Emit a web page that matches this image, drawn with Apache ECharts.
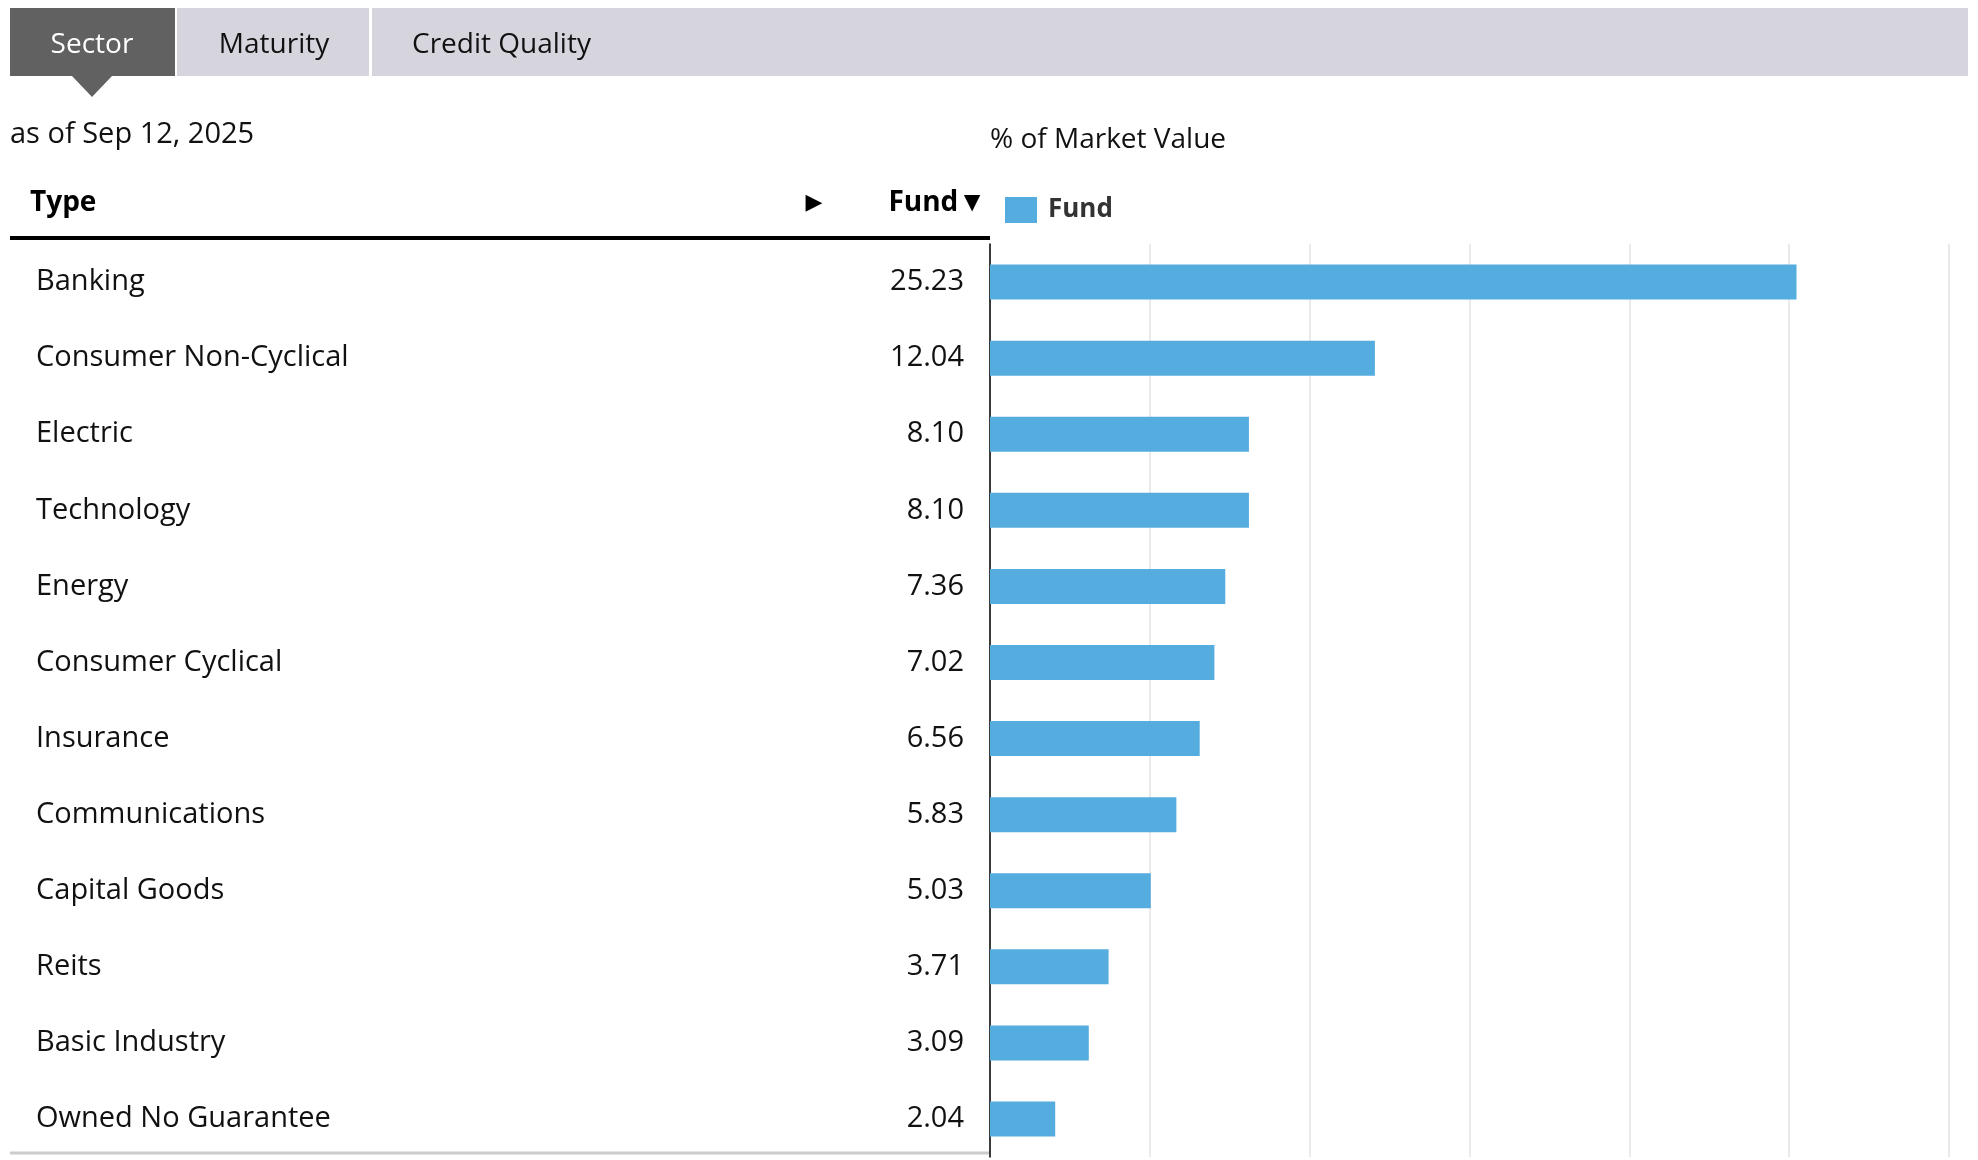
<!DOCTYPE html>
<html><head><meta charset="utf-8">
<script src="https://cdn.jsdelivr.net/npm/echarts@6/dist/echarts.min.js"></script>
<style>html,body{margin:0;padding:0;background:#fff;}#c{width:1978px;height:1160px;}</style>
</head><body><div id="c"></div>
<script>
const categories = ['Banking','Consumer Non-Cyclical','Electric','Technology','Energy','Consumer Cyclical','Insurance','Communications','Capital Goods','Reits','Basic Industry','Owned No Guarantee'];
const fundValues = [25.23,12.04,8.10,8.10,7.36,7.02,6.56,5.83,5.03,3.71,3.09,2.04];
const tabLabels = ['Sector','Maturity','Credit Quality'];
const seriesName = 'Fund';
const asOfText = 'as of Sep 12, 2025';
const axisTitle = '% of Market Value';

const FONT = 'Open Sans';
const chart = echarts.init(document.getElementById('c'));
chart.setOption({
  animation: false,
  backgroundColor: '#fff',
  textStyle: { fontFamily: FONT },
  legend: {
    data: [seriesName], left: 1005, top: 197, padding: 0,
    icon: 'rect', itemWidth: 32, itemHeight: 26, itemGap: 12,
    textStyle: { fontFamily: FONT, fontSize: 26, fontWeight: 'bold', color: '#333', padding: [4,0,0,6] }
  },
  grid: { left: 990, right: 29, top: 244, bottom: 3, containLabel: false },
  xAxis: {
    type: 'value', min: 0, max: 30, interval: 5,
    axisLabel: { show: false }, axisLine: { show: false }, axisTick: { show: false },
    splitLine: { show: true, lineStyle: { color: '#e3e3e3', width: 1.5 } }
  },
  yAxis: {
    type: 'category', data: categories, inverse: true,
    axisTick: { show: false },
    axisLine: { show: true, lineStyle: { color: '#000', width: 1.5 } },
    axisLabel: {
      margin: 26, align: 'right',
      formatter: (v, i) => `{n|${v}}{v|${fundValues[i].toFixed(2)}}`,
      rich: {
        n: { width: 800, align: 'left', fontFamily: FONT, fontSize: 29, color: '#111' },
        v: { width: 128, align: 'right', fontFamily: FONT, fontSize: 29, color: '#111' }
      }
    }
  },
  series: [{
    name: seriesName, type: 'bar', data: fundValues, barWidth: 35,
    itemStyle: { color: '#55acdf' }
  }],
  graphic: [
    { type: 'rect', shape: { x: 372, y: 8, width: 1596, height: 68 }, style: { fill: '#d6d5de' } },
    { type: 'rect', shape: { x: 177, y: 8, width: 192, height: 68 }, style: { fill: '#d6d5de' } },
    { type: 'rect', shape: { x: 10, y: 8, width: 165, height: 68 }, style: { fill: '#616161' } },
    { type: 'polygon', shape: { points: [[72,76],[112,76],[92,97]] }, style: { fill: '#616161' } },
    { type: 'text', x: 92, y: 45, style: { text: tabLabels[0], fill: '#fff', font: `28px "${FONT}"`, textAlign: 'center', textVerticalAlign: 'middle' } },
    { type: 'text', x: 274, y: 45, style: { text: tabLabels[1], fill: '#111', font: `28px "${FONT}"`, textAlign: 'center', textVerticalAlign: 'middle' } },
    { type: 'text', x: 412, y: 45, style: { text: tabLabels[2], fill: '#111', font: `28px "${FONT}"`, textAlign: 'left', textVerticalAlign: 'middle' } },
    { type: 'text', x: 10, y: 135, style: { text: asOfText, fill: '#111', font: `29px "${FONT}"`, textAlign: 'left', textVerticalAlign: 'middle' } },
    { type: 'text', x: 990, y: 140, style: { text: axisTitle, fill: '#111', font: `28px "${FONT}"`, textAlign: 'left', textVerticalAlign: 'middle' } },
    { type: 'text', x: 30, y: 203, style: { text: 'Type', fill: '#000', font: `bold 28px "${FONT}"`, textAlign: 'left', textVerticalAlign: 'middle' } },
    { type: 'text', x: 814, y: 203, style: { text: '▶', fill: '#000', font: `22px "DejaVu Sans"`, textAlign: 'center', textVerticalAlign: 'middle' } },
    { type: 'text', x: 986, y: 203, style: { text: 'Fund▼', fill: '#000', font: `bold 28px "${FONT}"`, textAlign: 'right', textVerticalAlign: 'middle' } },
    { type: 'line', shape: { x1: 10, y1: 238, x2: 990, y2: 238 }, style: { stroke: '#000', lineWidth: 4 } },
    { type: 'line', shape: { x1: 10, y1: 1153, x2: 990, y2: 1153 }, style: { stroke: '#cccccc', lineWidth: 3 } }
  ]
});
</script></body></html>
